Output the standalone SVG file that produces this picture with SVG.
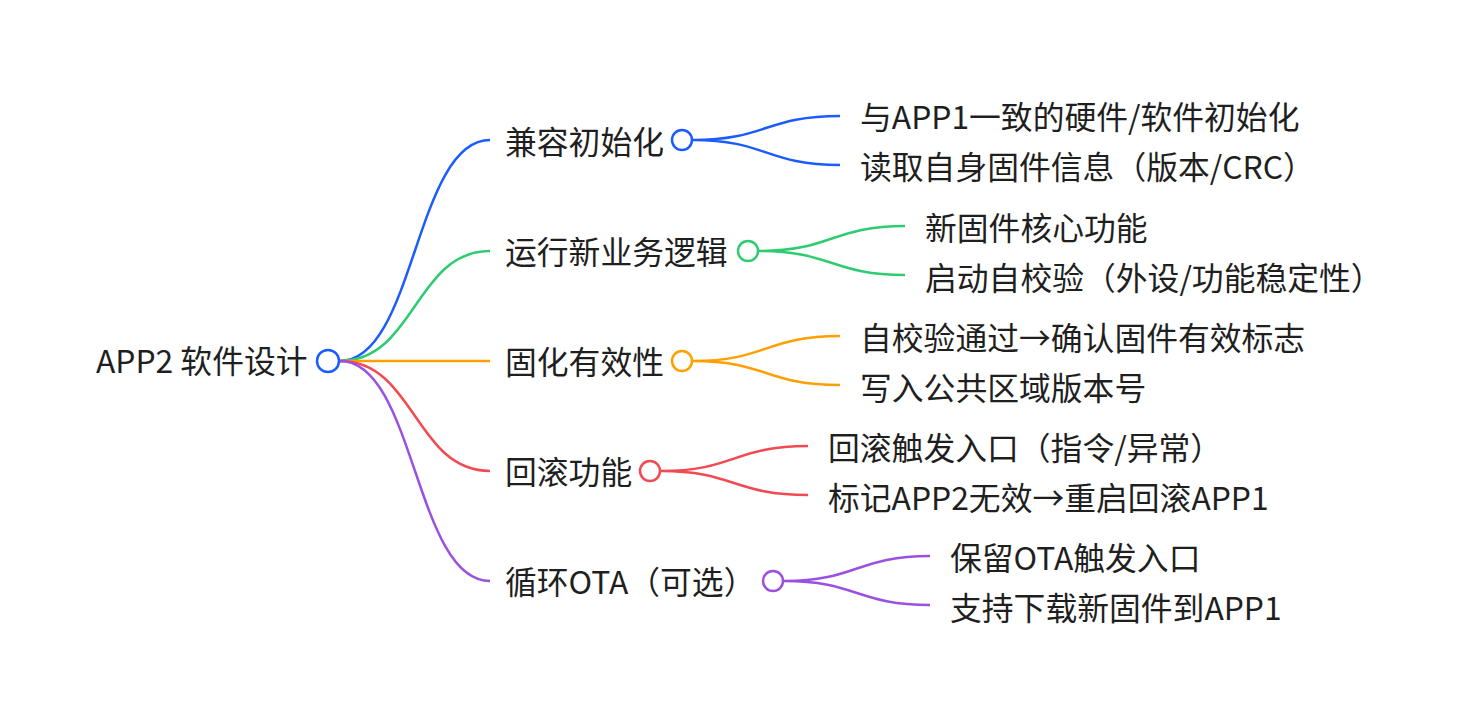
<svg xmlns="http://www.w3.org/2000/svg" width="1484" height="722" viewBox="0 0 1484 722">
<style>
text{font-family:"Noto Sans CJK SC","Noto Sans",sans-serif;font-size:31.8px;fill:#1f1f1f}
.l{fill:none;stroke-width:2.5}
circle{fill:#fff;stroke-width:2.5}
.b{stroke:#1a5cff}.g{stroke:#2ecc71}.o{stroke:#ff9f00}.r{stroke:#f24a52}.p{stroke:#9b51e0}
</style>
<rect width="1484" height="722" fill="#fff"/>
<g id="connectors">
<path class="l b" d="M340 361 C415 361 415 140 490 140"/>
<path class="l g" d="M340 361 C415 361 415 251 490 251"/>
<path class="l o" d="M340 361 L490 361"/>
<path class="l r" d="M340 361 C415 361 415 471 490 471"/>
<path class="l p" d="M340 361 C415 361 415 581 490 581"/>
<path class="l b" d="M693 140 C766 140 766 116 840 116 M693 140 C766 140 766 165 840 165"/>
<path class="l g" d="M759 251 C832 251 832 226 905 226 M759 251 C832 251 832 275 905 275"/>
<path class="l o" d="M693 361 C766 361 766 336 840 336 M693 361 C766 361 766 385 840 385"/>
<path class="l r" d="M661 471 C734 471 734 446 808 446 M661 471 C734 471 734 495 808 495"/>
<path class="l p" d="M784 581 C857 581 857 556 930 556 M784 581 C857 581 857 605 930 605"/>
</g>
<g id="root"><text x="96" y="373">APP2 软件设计</text><circle class="b" cx="328" cy="361" r="11"/></g>
<g id="n1"><text x="505" y="154">兼容初始化</text><circle class="b" cx="682" cy="140" r="10"/></g>
<g id="n2"><text x="505" y="264">运行新业务逻辑</text><circle class="g" cx="748" cy="251" r="10"/></g>
<g id="n3"><text x="505" y="374">固化有效性</text><circle class="o" cx="682" cy="361" r="10"/></g>
<g id="n4"><text x="505" y="484">回滚功能</text><circle class="r" cx="650" cy="471" r="10"/></g>
<g id="n5"><text x="505" y="594">循环OTA（可选）</text><circle class="p" cx="773" cy="581" r="10"/></g>
<g id="leaves">
<text x="860" y="129">与APP1一致的硬件/软件初始化</text>
<text x="860" y="179">读取自身固件信息（版本/CRC）</text>
<text x="925" y="240">新固件核心功能</text>
<text x="925" y="290">启动自校验（外设/功能稳定性）</text>
<text x="860" y="350">自校验通过→确认固件有效标志</text>
<text x="860" y="400">写入公共区域版本号</text>
<text x="828" y="460">回滚触发入口（指令/异常）</text>
<text x="828" y="510">标记APP2无效→重启回滚APP1</text>
<text x="950" y="570">保留OTA触发入口</text>
<text x="950" y="620">支持下载新固件到APP1</text>
</g>
</svg>
